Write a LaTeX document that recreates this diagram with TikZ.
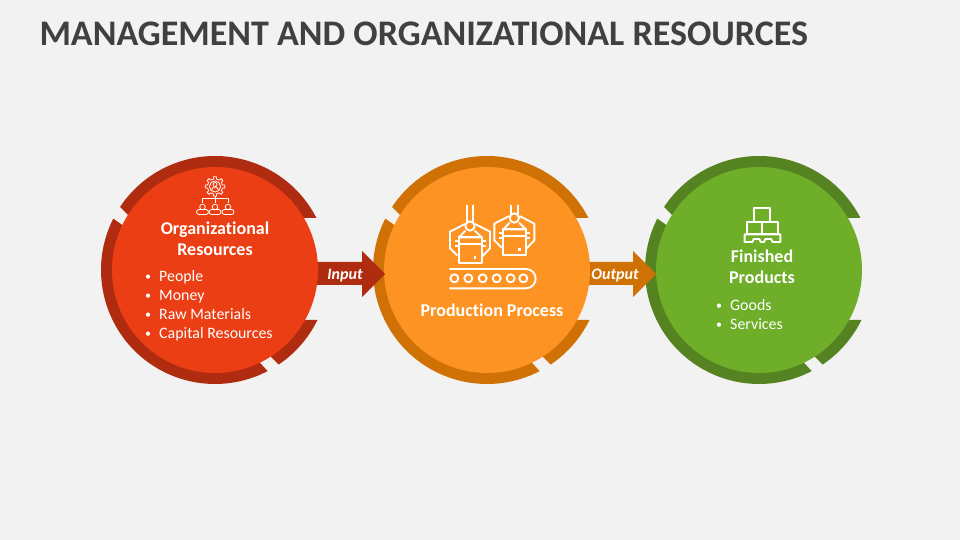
\documentclass[tikz,border=0pt]{standalone}
\usepackage{fontspec}
\setmainfont[Ligatures=NoCommon]{Carlito}
\usetikzlibrary{arrows.meta}
\definecolor{mybg}{RGB}{242, 242, 242}
\definecolor{mytitle}{RGB}{64, 64, 64}
\definecolor{myred}{RGB}{235, 62, 20}
\definecolor{myreddark}{RGB}{176, 44, 16}
\definecolor{myorange}{RGB}{252, 147, 34}
\definecolor{myorangedark}{RGB}{208, 113, 6}
\definecolor{mygreen}{RGB}{110, 174, 41}
\definecolor{mygreendark}{RGB}{85, 131, 33}

% one disc with its three ring pieces: centre x, disc colour, ring colour
\newcommand{\ringdisc}[3]{
\begin{scope}[shift = {(#1,270)}]
\fill[#3] (27.24:114) arc[start angle=27.24, end angle=146.4, radius=114] -- (-75,43) -- (60,52) -- cycle;
\fill[#3] (153.2:114) arc[start angle=153.2, end angle=297.5, radius=114] -- (37,-84) -- (-80,36) -- cycle;
\fill[#3] (-56:114) arc[start angle=-56, end angle=-25.9, radius=114] -- (70,-50) -- (50,-81) -- cycle;
\fill[#2] (0,0) circle (103);
\end{scope}
}
% block arrow: start x, tip x, colour
\newcommand{\blockarrow}[3]{
\fill[#3] (#1,278) -- (#2-23,278) -- (#2-23,289) -- (#2,266) -- (#2-23,243) -- (#2-23,255) -- (#1,255) -- cycle;
}
\newcommand{\listdot}{\makebox[14pt][l]{\raisebox{1pt}{\fontsize{12}{12}\selectfont •}}}

\begin{document}
\begin{tikzpicture}[
    x = 1pt, y = 1pt,
    head/.style = {white, font = \fontsize{18}{20}\selectfont\bfseries, align = center},
    listitem/.style = {white, anchor = base west, inner sep = 0pt, font = \fontsize{15.9}{18}\selectfont},
    flowlabel/.style = {white, anchor = base, inner sep = 0pt, font = \fontsize{16}{18}\selectfont\bfseries\itshape},
    icon/.style = {white, line width = 1.9pt, line join = round},
]

\fill[mybg] (0,0) rectangle (960,540);
\useasboundingbox (0,0) rectangle (960,540);

\node[mytitle, anchor = west, font = \fontsize{36}{40}\selectfont\bfseries] (title) at (36,506) {MANAGEMENT AND ORGANIZATIONAL RESOURCES};

% drawn from right to left, each arrow tip lies over the next ring
\ringdisc{759}{mygreen}{mygreendark}
\blockarrow{586}{656}{myorangedark}
\ringdisc{487}{myorange}{myorangedark}
\blockarrow{316}{385}{myreddark}
\ringdisc{215}{myred}{myreddark}

\node[flowlabel] (input) at (345,260.5) {Input};
\node[flowlabel] (output) at (615,260.5) {Output};

% left disc
\node[head] (orgtitle) at (215,301.5) {Organizational\\[1pt]Resources};
\foreach \y/\t [count=\i] in {258.5/People, 239.5/Money, 220.5/Raw Materials, 201/Capital Resources}
    \node[listitem] (org\i) at (145,\y) {\listdot\t};

\begin{scope}[icon, line width = 0.8pt]
\draw (215,353.5) circle (5.6);
\draw (215,355.5) circle (2);
\draw (211.6,349.6) arc[start angle=180, end angle=0, radius=3.4];
\draw ([shift = {(215,353.5)}]-12:7.6) \foreach \a in {0,45,...,315} {
    -- ([shift = {(215,353.5)}]\a-12:7.6) -- ([shift = {(215,353.5)}]\a-8:9.8) -- ([shift = {(215,353.5)}]\a+8:9.8) -- ([shift = {(215,353.5)}]\a+12:7.6)
} -- cycle;
\draw (215,344) -- (215,342) (202.5,337) -- (202.5,342) -- (228,342) -- (228,337) (215,342) -- (215,337);
\foreach \x in {202.5,215,228} {
    \draw (\x,333) circle (2.8);
    \draw[rounded corners = 2.5pt] (\x-6,325.5) rectangle (\x+6,330.5);
}
\end{scope}

% middle disc
\begin{scope}[icon, shift = {(440,345)}, xscale = 0.3333, yscale = -0.3333]
\foreach \dx/\dy/\rod in {0/0/80, 133/-24/80} {
\begin{scope}[shift = {(\dx,\dy)}]
\draw (90,93) circle (14);
\draw (80,\rod) -- (80,{30-\dy}) (100,\rod) -- (100,{30-\dy});
\draw (75,87) -- (30,110) -- (30,160) -- (52,182);
\draw (105,87) -- (150,110) -- (150,160) -- (127,184);
\draw (76,107) -- (57,127) -- (125,127) -- (104,107);
\draw (57,127) rectangle (125,205);
\draw (57,147) -- (125,147);
\draw (45,138) -- (57,138) (45,152) -- (57,152) (125,138) -- (138,138) (125,152) -- (138,152);
\fill[white] (102,184) rectangle (109,191);
\end{scope}
}
\draw (28,222) -- (258,222) arc[start angle=-90, end angle=90, radius=29] -- (28,280);
\foreach \x in {43,85,128,170,212,250}
    \draw (\x,250) circle (12);
\end{scope}
\node[white, font = \fontsize{18}{20}\selectfont\bfseries] (prodtitle) at (492,230) {Production Process};

% right disc
\begin{scope}[icon, shift = {(640,395)}, xscale = 0.3333, yscale = -0.3333]
\draw (343,188) rectangle (390,230);
\draw (320,230) rectangle (367,268);
\draw (367,230) rectangle (413,268);
\draw (314,268) -- (421,268) -- (421,291) -- (398,291) -- (393,282) -- (376,282) -- (372,291) -- (362,291) -- (358,282) -- (341,282) -- (337,291) -- (314,291) -- cycle;
\end{scope}
\node[head] (fintitle) at (762,273) {Finished\\[1pt]Products};
\foreach \y/\t [count=\i] in {229.5/Goods, 210.5/Services}
    \node[listitem] (fin\i) at (716,\y) {\listdot\t};

\end{tikzpicture}
\end{document}
